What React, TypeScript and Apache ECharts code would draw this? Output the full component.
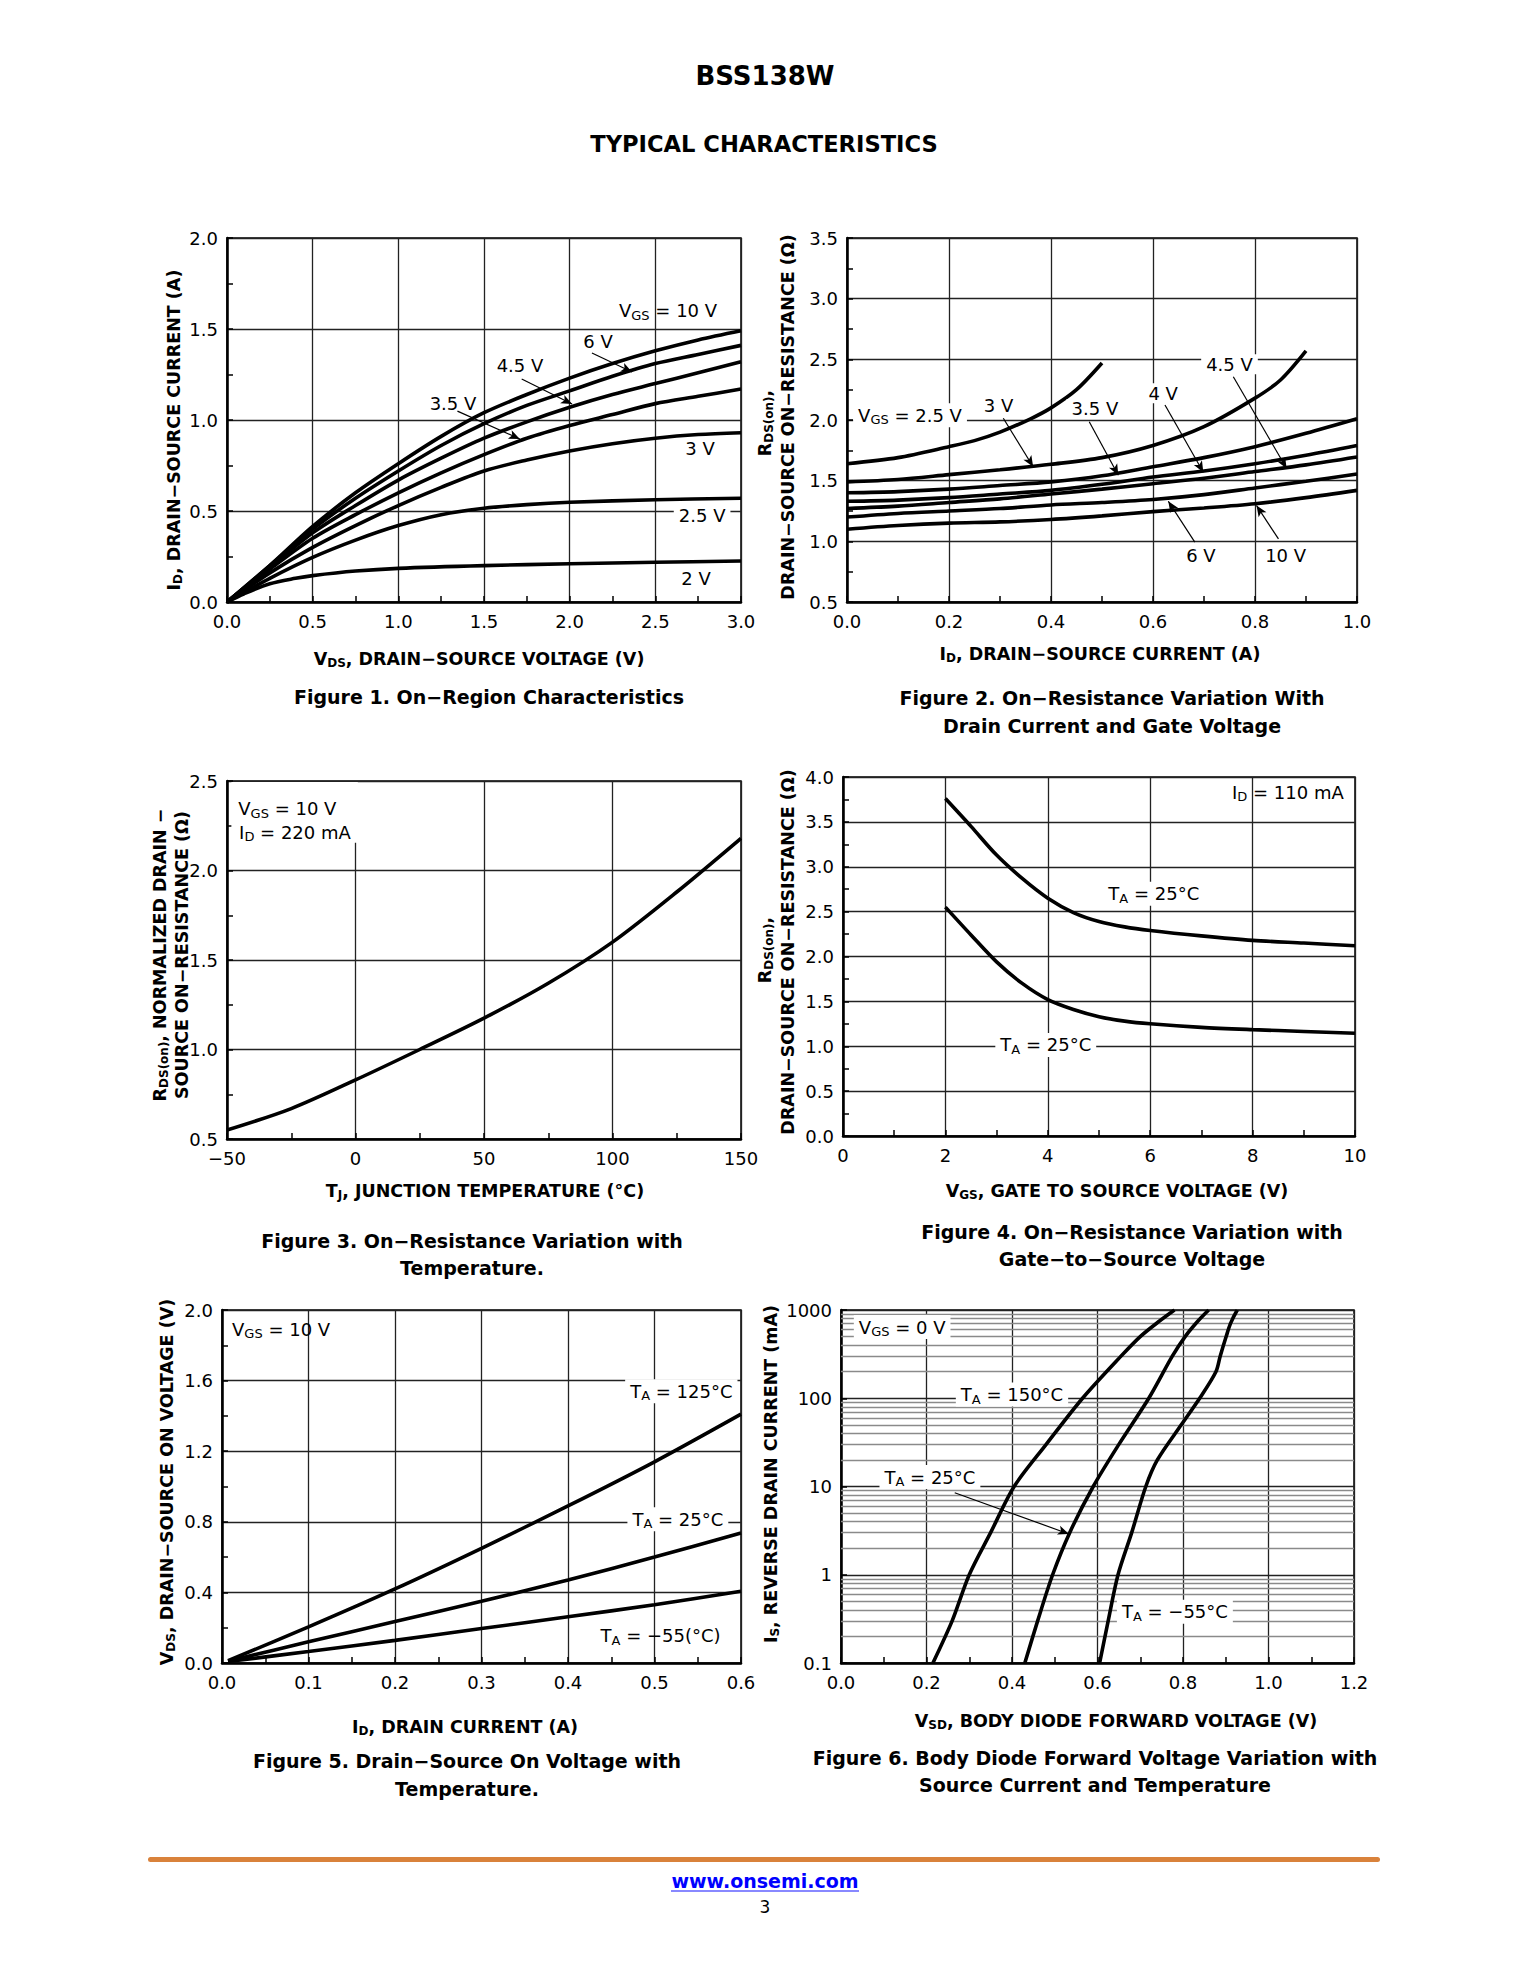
import React, { useEffect, useRef } from "react";
import * as echarts from "echarts";

const FONT = '"DejaVu Sans", "Liberation Sans", Arial, sans-serif';

// ---------------- Figure 1: On-Region Characteristics (VDS [V], ID [A]) ----------------
const f1XTicks = [0, 0.5, 1.0, 1.5, 2.0, 2.5, 3.0];
const f1YTicks = [0, 0.5, 1.0, 1.5, 2.0];
const f1Vgs10V = [[0, 0], [0.25, 0.2], [0.5, 0.415], [0.75, 0.6], [1.0, 0.76], [1.25, 0.91], [1.5, 1.04], [1.75, 1.14], [2.0, 1.23], [2.25, 1.31], [2.5, 1.38], [2.75, 1.44], [3.0, 1.49]];
const f1Vgs6V = [[0, 0], [0.25, 0.2], [0.5, 0.4], [0.75, 0.57], [1.0, 0.72], [1.25, 0.86], [1.5, 0.98], [1.75, 1.08], [2.0, 1.16], [2.25, 1.24], [2.5, 1.31], [2.75, 1.36], [3.0, 1.41]];
const f1Vgs4p5V = [[0, 0], [0.25, 0.19], [0.5, 0.38], [0.75, 0.53], [1.0, 0.67], [1.25, 0.79], [1.5, 0.9], [1.75, 0.99], [2.0, 1.07], [2.25, 1.14], [2.5, 1.2], [2.75, 1.26], [3.0, 1.32]];
const f1Vgs3p5V = [[0, 0], [0.25, 0.18], [0.5, 0.35], [0.75, 0.48], [1.0, 0.6], [1.25, 0.71], [1.5, 0.81], [1.75, 0.9], [2.0, 0.97], [2.25, 1.03], [2.5, 1.09], [2.75, 1.13], [3.0, 1.17]];
const f1Vgs3V = [[0, 0], [0.25, 0.16], [0.5, 0.3], [0.75, 0.42], [1.0, 0.53], [1.25, 0.63], [1.5, 0.72], [1.75, 0.78], [2.0, 0.83], [2.25, 0.87], [2.5, 0.9], [2.75, 0.92], [3.0, 0.93]];
const f1Vgs2p5V = [[0, 0], [0.25, 0.13], [0.5, 0.245], [0.75, 0.34], [1.0, 0.42], [1.25, 0.48], [1.5, 0.515], [1.75, 0.535], [2.0, 0.548], [2.5, 0.562], [3.0, 0.57]];
const f1Vgs2V = [[0, 0], [0.1, 0.045], [0.25, 0.1], [0.4, 0.13], [0.5, 0.145], [0.75, 0.17], [1.0, 0.185], [1.5, 0.2], [2.0, 0.21], [2.5, 0.218], [3.0, 0.225]];

// ---------------- Figure 2: RDS(on) vs ID (ID [A], RDS [ohm]) ----------------
const f2XTicks = [0, 0.2, 0.4, 0.6, 0.8, 1.0];
const f2YTicks = [0.5, 1.0, 1.5, 2.0, 2.5, 3.0, 3.5];
const f2Vgs2p5V = [[0, 1.64], [0.1, 1.69], [0.2, 1.78], [0.25, 1.83], [0.3, 1.9], [0.36, 2.01], [0.4, 2.1], [0.45, 2.25], [0.5, 2.47]];
const f2Vgs3V = [[0, 1.49], [0.1, 1.51], [0.2, 1.55], [0.3, 1.59], [0.4, 1.635], [0.5, 1.69], [0.6, 1.79], [0.7, 1.945], [0.8, 2.18], [0.85, 2.33], [0.9, 2.57]];
const f2Vgs3p5V = [[0, 1.4], [0.1, 1.41], [0.2, 1.43], [0.3, 1.46], [0.4, 1.49], [0.5, 1.54], [0.6, 1.615], [0.7, 1.69], [0.8, 1.78], [0.9, 1.89], [1.0, 2.01]];
const f2Vgs4V = [[0, 1.33], [0.1, 1.34], [0.2, 1.36], [0.3, 1.39], [0.4, 1.42], [0.5, 1.47], [0.6, 1.53], [0.7, 1.58], [0.8, 1.64], [0.9, 1.71], [1.0, 1.79]];
const f2Vgs4p5V = [[0, 1.27], [0.1, 1.29], [0.2, 1.32], [0.3, 1.35], [0.4, 1.39], [0.5, 1.43], [0.6, 1.475], [0.7, 1.52], [0.8, 1.575], [0.9, 1.63], [1.0, 1.695]];
const f2Vgs6V = [[0, 1.2], [0.1, 1.23], [0.2, 1.25], [0.3, 1.27], [0.4, 1.3], [0.5, 1.32], [0.6, 1.345], [0.7, 1.385], [0.8, 1.44], [0.9, 1.495], [1.0, 1.555]];
const f2Vgs10V = [[0, 1.1], [0.1, 1.13], [0.2, 1.15], [0.3, 1.16], [0.4, 1.18], [0.5, 1.21], [0.6, 1.245], [0.7, 1.275], [0.8, 1.31], [0.9, 1.36], [1.0, 1.42]];

// ---------------- Figure 3: normalized RDS(on) vs TJ ----------------
const f3XTicks = [-50, 0, 50, 100, 150];
const f3YTicks = [0.5, 1.0, 1.5, 2.0, 2.5];
const f3Rds = [[-50, 0.55], [-25, 0.67], [0, 0.83], [25, 1.0], [50, 1.175], [75, 1.37], [100, 1.6], [125, 1.88], [150, 2.18]];

// ---------------- Figure 4: RDS(on) vs VGS ----------------
const f4XTicks = [0, 2, 4, 6, 8, 10];
const f4YTicks = [0, 0.5, 1.0, 1.5, 2.0, 2.5, 3.0, 3.5, 4.0];
const f4Upper = [[2, 3.76], [2.5, 3.45], [3, 3.13], [3.5, 2.87], [4, 2.65], [4.5, 2.49], [5, 2.39], [5.5, 2.33], [6, 2.29], [7, 2.23], [8, 2.18], [9, 2.15], [10, 2.12]];
const f4Lower = [[2, 2.55], [2.5, 2.24], [3, 1.94], [3.5, 1.7], [4, 1.52], [4.5, 1.41], [5, 1.33], [5.5, 1.28], [6, 1.25], [7, 1.21], [8, 1.185], [9, 1.165], [10, 1.145]];

// ---------------- Figure 5: VDS(on) vs ID ----------------
const f5XTicks = [0, 0.1, 0.2, 0.3, 0.4, 0.5, 0.6];
const f5YTicks = [0, 0.4, 0.8, 1.2, 1.6, 2.0];
const f5T125 = [[0.007, 0.013], [0.1, 0.205], [0.2, 0.42], [0.3, 0.65], [0.4, 0.89], [0.5, 1.14], [0.6, 1.41]];
const f5T25 = [[0.007, 0.01], [0.1, 0.12], [0.2, 0.235], [0.3, 0.35], [0.4, 0.47], [0.5, 0.6], [0.6, 0.736]];
const f5Tm55 = [[0.007, 0.008], [0.1, 0.065], [0.2, 0.128], [0.3, 0.195], [0.4, 0.262], [0.5, 0.33], [0.6, 0.407]];

// ---------------- Figure 6: IS vs VSD (log) ----------------
const f6XTicks = [0, 0.2, 0.4, 0.6, 0.8, 1.0, 1.2];
const f6YTicks = [0.1, 1, 10, 100, 1000];
const f6YTickLabels = ["0.1", "1", "10", "100", "1000"];
const f6MinorMantissas = [2, 3, 4, 5, 6, 7, 8, 9];
const f6T150 = [[0.215, 0.1], [0.26, 0.3], [0.3, 1], [0.35, 3], [0.405, 10], [0.48, 30], [0.565, 100], [0.655, 300], [0.7, 500], [0.745, 750], [0.78, 1000]];
const f6T25 = [[0.43, 0.1], [0.46, 0.3], [0.495, 1], [0.535, 3], [0.59, 10], [0.65, 30], [0.72, 100], [0.775, 300], [0.805, 500], [0.835, 750], [0.86, 1000]];
const f6Tm55 = [[0.605, 0.1], [0.625, 0.3], [0.648, 1], [0.68, 3], [0.713, 10], [0.74, 20], [0.796, 50], [0.839, 100], [0.877, 200], [0.887, 300], [0.901, 500], [0.911, 700], [0.927, 1000]];

// ---------------- layout ----------------
const GRIDS = [
  { left: 227, top: 238, width: 514, height: 364 },
  { left: 847, top: 238, width: 510, height: 364 },
  { left: 227, top: 781, width: 514, height: 358 },
  { left: 843, top: 777, width: 512, height: 359 },
  { left: 222, top: 1310, width: 519, height: 353 },
  { left: 841, top: 1310, width: 513, height: 353 },
];

const fix1 = (v: number) => v.toFixed(1);

function valueAxis(gi: number, ticks: number[], fmt: (v: number) => string, minorSplit: number, isX: boolean, log = false) {
  const ax: any = {
    type: log ? "log" : "value",
    gridIndex: gi,
    position: isX ? "bottom" : "left",
    min: ticks[0],
    max: ticks[ticks.length - 1],
    axisLine: { show: true, onZero: false, lineStyle: { color: "#000", width: 2.5 } },
    axisTick: { show: true, inside: true, length: 6, lineStyle: { color: "#000", width: 1.5 } },
    minorTick: { show: minorSplit > 0, splitNumber: Math.max(minorSplit, 1), length: 6, lineStyle: { color: "#000", width: 1.5 } },
    splitLine: { show: true, lineStyle: { color: "#222", width: 1.3 } },
    minorSplitLine: { show: false },
    axisLabel: { show: true, formatter: fmt, color: "#000", fontFamily: FONT, fontSize: 18, margin: isX ? 10 : 9, showMinLabel: true, showMaxLabel: true },
  };
  if (log) ax.logBase = 10;
  else ax.interval = ticks[1] - ticks[0];
  return ax;
}

function curve(gi: number, data: number[][], extra: any = {}) {
  return {
    type: "line", xAxisIndex: gi, yAxisIndex: gi, data, showSymbol: false, symbol: "none",
    smooth: 0.3, silent: true, z: 6, lineStyle: { color: "#000", width: 3.6 }, ...extra,
  };
}

function arrows(list: number[][][]) {
  return {
    silent: true, symbol: ["none", "arrow"], symbolSize: [7, 11], label: { show: false },
    lineStyle: { color: "#000", width: 1.2, type: "solid" }, emphasis: { disabled: true },
    data: list.map(([a, b]) => [{ coord: a }, { coord: b }]),
  };
}

const rich = {
  s: { fontSize: 13, fontFamily: FONT, padding: [9, 0, 0, 0] },
  bs: { fontSize: 12, fontFamily: FONT, fontWeight: "bold", padding: [8, 0, 0, 0] },
};

function txt(x: number, y: number, text: string, o: any = {}) {
  const style: any = {
    text, x: 0, y: 0, fill: o.color || "#000", fontFamily: FONT, fontSize: o.size || 18,
    fontWeight: o.bold ? "bold" : "normal", align: o.align || "center", verticalAlign: o.va || "middle", rich,
  };
  if (o.bg) { style.backgroundColor = "#fff"; style.padding = o.pad || [1, 5, 1, 5]; }
  return { type: "text", x, y, rotation: o.rot || 0, z: o.z ?? 60, silent: true, style };
}

// annotations in data coordinates: [gridIndex, x, y, text, align, bg]
const NOTES: any[] = [
  [0, 2.574, 1.6, "V{s|GS} = 10 V", "center", false],
  [0, 2.166, 1.434, "6 V", "center", false],
  [0, 1.71, 1.302, "4.5 V", "center", false],
  [0, 1.319, 1.093, "3.5 V", "center", false],
  [0, 2.761, 0.845, "3 V", "center", false],
  [0, 2.773, 0.473, "2.5 V", "center", true],
  [0, 2.738, 0.128, "2 V", "center", false],
  [1, 0.012, 2.04, "V{s|GS} = 2.5 V", "left", true],
  [1, 0.297, 2.116, "3 V", "center", false],
  [1, 0.486, 2.091, "3.5 V", "center", true],
  [1, 0.62, 2.22, "4 V", "center", true],
  [1, 0.75, 2.46, "4.5 V", "center", true],
  [1, 0.694, 0.884, "6 V", "center", false],
  [1, 0.86, 0.884, "10 V", "center", false],
  [2, -45.6, 2.346, "V{s|GS} = 10 V", "left", false],
  [2, -45.3, 2.215, "I{s|D} = 220 mA", "left", false],
  [3, 9.78, 3.83, "I{s|D} = 110 mA", "right", false],
  [3, 6.07, 2.7, "T{s|A} = 25°C", "center", true],
  [3, 3.96, 1.014, "T{s|A} = 25°C", "center", true],
  [4, 0.0116, 1.89, "V{s|GS} = 10 V", "left", false],
  [4, 0.531, 1.54, "T{s|A} = 125°C", "center", true],
  [4, 0.527, 0.815, "T{s|A} = 25°C", "center", true],
  [4, 0.507, 0.155, "T{s|A} = −55(°C)", "center", false],
  [5, 0.03, 640, "V{s|GS} = 0 V", "left", true],
  [5, 0.4, 110, "T{s|A} = 150°C", "center", true],
  [5, 0.208, 12.8, "T{s|A} = 25°C", "center", true],
  [5, 0.781, 0.38, "T{s|A} = −55°C", "center", true],
];

// static texts in page pixels: [x, y, text, size, bold, rotated]
const STATIC: any[] = [
  [765, 76, "BSS138W", 26, true, false],
  [764, 144, "TYPICAL CHARACTERISTICS", 22.6, true, false],
  [479, 659, "V{bs|DS}, DRAIN−SOURCE VOLTAGE (V)", 17.5, true, false],
  [174, 430, "I{bs|D}, DRAIN−SOURCE CURRENT (A)", 17.5, true, true],
  [489, 697, "Figure 1. On−Region Characteristics", 19, true, false],
  [1100, 654, "I{bs|D}, DRAIN−SOURCE CURRENT (A)", 17.5, true, false],
  [765, 423, "R{bs|DS(on)},", 17.5, true, true],
  [788, 417, "DRAIN−SOURCE ON−RESISTANCE (Ω)", 17.5, true, true],
  [1112, 698, "Figure 2. On−Resistance Variation With", 19, true, false],
  [1112, 726, "Drain Current and Gate Voltage", 19, true, false],
  [485, 1191, "T{bs|J}, JUNCTION TEMPERATURE (°C)", 17.5, true, false],
  [160, 955, "R{bs|DS(on)}, NORMALIZED DRAIN −", 17.5, true, true],
  [182, 955, "SOURCE ON−RESISTANCE (Ω)", 17.5, true, true],
  [472, 1241, "Figure 3. On−Resistance Variation with", 19, true, false],
  [472, 1268, "Temperature.", 19, true, false],
  [1117, 1191, "V{bs|GS}, GATE TO SOURCE VOLTAGE (V)", 17.5, true, false],
  [765, 950, "R{bs|DS(on)},", 17.5, true, true],
  [788, 952, "DRAIN−SOURCE ON−RESISTANCE (Ω)", 17.5, true, true],
  [1132, 1232, "Figure 4. On−Resistance Variation with", 19, true, false],
  [1132, 1259, "Gate−to−Source Voltage", 19, true, false],
  [465, 1727, "I{bs|D}, DRAIN CURRENT (A)", 17.5, true, false],
  [167, 1482, "V{bs|DS}, DRAIN−SOURCE ON VOLTAGE (V)", 17.5, true, true],
  [467, 1761, "Figure 5. Drain−Source On Voltage with", 19, true, false],
  [467, 1789, "Temperature.", 19, true, false],
  [1116, 1721, "V{bs|SD}, BODY DIODE FORWARD VOLTAGE (V)", 17.5, true, false],
  [771, 1474, "I{bs|S}, REVERSE DRAIN CURRENT (mA)", 17.5, true, true],
  [1095, 1758, "Figure 6. Body Diode Forward Voltage Variation with", 19, true, false],
  [1095, 1785, "Source Current and Temperature", 19, true, false],
];

export default function App() {
  const ref = useRef<HTMLDivElement>(null);
  useEffect(() => {
    if (!ref.current) return;
    const chart = echarts.init(ref.current, undefined, { renderer: "svg" });

    const f6Minor: number[] = [];
    [0.1, 1, 10, 100].forEach((d) => f6MinorMantissas.forEach((m) => f6Minor.push(+(m * d).toPrecision(3))));

    const f3Fmt = (v: number) => (v < 0 ? "−" + Math.abs(v) : String(v));
    const f6YFmt = (v: number) => f6YTickLabels[Math.round(Math.log10(v)) + 1] ?? String(v);

    const option: any = {
      animation: false,
      backgroundColor: "#fff",
      grid: GRIDS.map((g) => ({ ...g, show: true, borderColor: "#000", borderWidth: 1.5, backgroundColor: "transparent", containLabel: false, outerBoundsMode: "none" })),
      xAxis: [
        valueAxis(0, f1XTicks, fix1, 2, true),
        valueAxis(1, f2XTicks, fix1, 2, true),
        valueAxis(2, f3XTicks, f3Fmt, 2, true),
        valueAxis(3, f4XTicks, (v) => String(v), 2, true),
        valueAxis(4, f5XTicks, fix1, 2, true),
        valueAxis(5, f6XTicks, fix1, 2, true),
      ],
      yAxis: [
        valueAxis(0, f1YTicks, fix1, 2, false),
        valueAxis(1, f2YTicks, fix1, 2, false),
        valueAxis(2, f3YTicks, fix1, 2, false),
        valueAxis(3, f4YTicks, fix1, 2, false),
        valueAxis(4, f5YTicks, fix1, 2, false),
        valueAxis(5, f6YTicks, f6YFmt, 0, false, true),
      ],
      series: [
        curve(0, f1Vgs10V, { markLine: arrows([[[2.13, 1.368], [2.364, 1.264]], [[1.72, 1.225], [2.014, 1.088]], [[1.345, 1.049], [1.709, 0.896]]]) }),
        curve(0, f1Vgs6V), curve(0, f1Vgs4p5V), curve(0, f1Vgs3p5V), curve(0, f1Vgs3V), curve(0, f1Vgs2p5V), curve(0, f1Vgs2V),
        curve(1, f2Vgs2p5V, {
          markLine: arrows([
            [[0.3065, 2.014], [0.365, 1.615]],
            [[0.475, 1.986], [0.532, 1.545]],
            [[0.6235, 2.124], [0.6987, 1.57]],
            [[0.7575, 2.357], [0.862, 1.6]],
            [[0.682, 0.993], [0.63, 1.33]],
            [[0.846, 1.02], [0.803, 1.295]],
          ]),
        }),
        curve(1, f2Vgs3V), curve(1, f2Vgs3p5V), curve(1, f2Vgs4V), curve(1, f2Vgs4p5V), curve(1, f2Vgs6V), curve(1, f2Vgs10V),
        curve(2, f3Rds),
        curve(3, f4Upper), curve(3, f4Lower),
        curve(4, f5T125), curve(4, f5T25), curve(4, f5Tm55),
        curve(5, f6T150, {
          markLine: {
            silent: true, symbol: "none", label: { show: false }, emphasis: { disabled: true }, z: 1,
            lineStyle: { color: "#8a8a8a", width: 1.3, type: "solid" },
            data: f6Minor.map((v) => ({ yAxis: v })),
          },
        }),
        curve(5, f6T25, { markLine: arrows([[[0.266, 8.5], [0.533, 2.9]]]) }),
        curve(5, f6Tm55),
      ],
    };
    chart.setOption(option);

    const P = (g: number, x: number, y: number) => chart.convertToPixel({ gridIndex: g } as any, [x, y]) as number[];
    const els: any[] = [];

    // white box behind figure 3 condition text
    const a = P(2, -48.3, 2.5);
    const b = P(2, 0.9, 2.16);
    els.push({ type: "rect", z: 40, silent: true, shape: { x: a[0], y: a[1] + 1, width: b[0] - a[0], height: b[1] - a[1] }, style: { fill: "#fff" } });

    NOTES.forEach(([g, x, y, t, align, bg]) => {
      const p = P(g, x, y);
      els.push(txt(p[0], p[1], t, { align, bg, size: 18 }));
    });

    STATIC.forEach(([x, y, t, size, bold, rot]) => {
      els.push(txt(x, y, t, { size, bold, rot: rot ? Math.PI / 2 : 0 }));
    });

    // footer
    els.push({ type: "rect", z: 10, silent: true, shape: { x: 148, y: 1857, width: 1232, height: 5, r: 2.5 }, style: { fill: "#D9823B" } });
    els.push(txt(765, 1881, "www.onsemi.com", { size: 19, bold: true, color: "#0000FF" }));
    els.push({ type: "line", z: 10, silent: true, shape: { x1: 671, y1: 1891, x2: 859, y2: 1891 }, style: { stroke: "#6060ff", lineWidth: 1.5 } });
    els.push(txt(765, 1907, "3", { size: 17 }));

    chart.setOption({ graphic: els });

    return () => chart.dispose();
  }, []);

  return (
    <div
      ref={ref}
      style={{ position: "absolute", left: 0, top: 0, width: 1530, height: 1980, background: "#fff" }}
    />
  );
}
